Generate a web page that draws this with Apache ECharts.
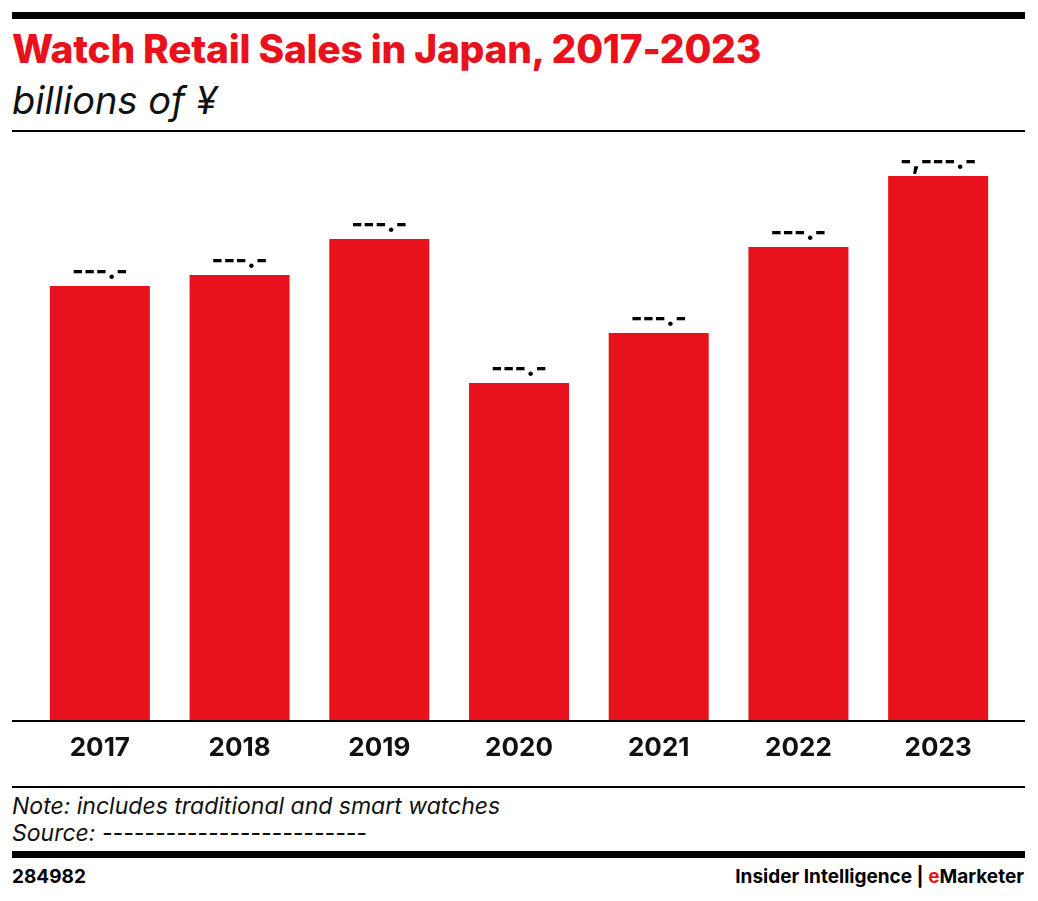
<!DOCTYPE html>
<html><head><meta charset="utf-8">
<script src="https://cdn.jsdelivr.net/npm/echarts@6/dist/echarts.min.js"></script>
<style>
body{margin:0;background:#fff;font-family:Inter,"Noto Sans",sans-serif;}
#wrap{position:relative;width:1038px;height:901px;}
.rule{position:absolute;left:12px;width:1013px;background:#000;}
.t{position:absolute;left:12px;}
</style></head><body>
<div id="wrap">
<div class="rule" style="top:12px;height:7px"></div>
<div class="t" style="top:25px;font-size:39px;font-weight:800;color:#e8121c;letter-spacing:-0.3px">Watch Retail Sales in Japan, 2017-2023</div>
<div class="t" style="top:77px;font-size:38px;font-style:italic;color:#111">billions of ¥</div>
<div class="rule" style="top:130px;height:1.5px"></div>
<div id="c" style="position:absolute;left:0;top:0;width:1038px;height:780px"></div>
<div class="rule" style="top:720px;height:1.5px"></div>
<div class="rule" style="top:786px;height:1.5px"></div>
<div class="t" style="top:792px;font-size:23px;font-style:italic;color:#111">Note: includes traditional and smart watches</div>
<div class="t" style="top:819px;font-size:23px;font-style:italic;color:#111">Source: -------------------------</div>
<div class="rule" style="top:851px;height:7px"></div>
<div class="t" style="top:865px;font-size:19px;font-weight:700">284982</div>
<div style="position:absolute;right:14px;top:865px;font-size:19px;font-weight:700">Insider Intelligence | <span style="color:#e8121c">e</span>Marketer</div>
</div>
<script>
const categories=['2017','2018','2019','2020','2021','2022','2023'];
const values=[870,892,964,676,776,948,1090];
const labels=['---.-','---.-','---.-','---.-','---.-','---.-','-,---.-'];
const ch=echarts.init(document.getElementById('c'));
ch.setOption({
 animation:false,
 grid:{left:30,right:30,top:140,bottom:59},
 xAxis:{type:'category',data:categories,axisTick:{show:false},
  axisLine:{show:false},
  axisLabel:{color:'#111',fontSize:26,fontWeight:'bold',margin:14,fontFamily:'Inter'}},
 yAxis:{type:'value',min:0,max:1162,show:false,splitLine:{show:false}},
 series:[{type:'bar',data:values,barWidth:100,itemStyle:{color:'#e8121c'},
  label:{show:true,position:'top',distance:2,color:'#000',fontSize:25,fontWeight:800,fontFamily:'Inter',
   formatter:p=>labels[p.dataIndex]}}]
});
</script></body></html>
